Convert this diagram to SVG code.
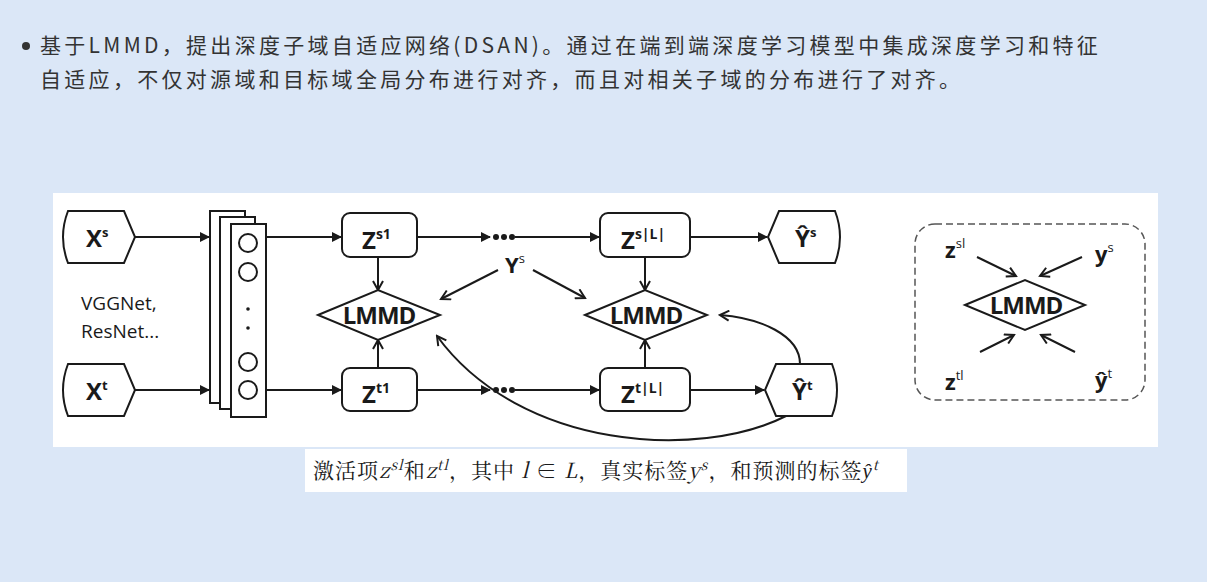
<svg xmlns="http://www.w3.org/2000/svg" width="1207" height="582" viewBox="0 0 1207 582">
<style>
.ln{stroke:#1a1a1a;stroke-width:2;fill:none}
.sh{stroke:#1a1a1a;stroke-width:2;fill:#fff}
.b{font-family:"Open Sans","Liberation Sans",sans-serif;font-weight:bold;fill:#1a1a1a}
.t{font-family:"Open Sans","Liberation Sans",sans-serif;fill:#1a1a1a}
.hd{font-family:"Noto Sans CJK SC",sans-serif;font-size:21px;letter-spacing:3.3px;fill:#333}
.lm{font-family:"Open Sans","Liberation Sans",sans-serif;font-weight:bold;fill:#1a1a1a;font-size:24px;letter-spacing:-1px}
</style>
<defs>
<marker id="fa" markerWidth="10" markerHeight="10" refX="9" refY="5" orient="auto" markerUnits="userSpaceOnUse"><path d="M0,0 L10,5 L0,10 Z" fill="#1a1a1a"/></marker>
<marker id="oa" markerWidth="12" markerHeight="12" refX="10" refY="6" orient="auto" markerUnits="userSpaceOnUse"><path d="M1,1 L10,6 L1,11" fill="none" stroke="#1a1a1a" stroke-width="2"/></marker>
</defs>
<rect width="1207" height="582" fill="#dbe7f7"/>
<circle cx="26" cy="46" r="4" fill="#333"/>
<text class="hd" x="40" y="53">基于LMMD，提出深度子域自适应网络(DSAN)。通过在端到端深度学习模型中集成深度学习和特征</text>
<text class="hd" x="40" y="87">自适应，不仅对源域和目标域全局分布进行对齐，而且对相关子域的分布进行了对齐。</text>
<rect x="53" y="193" width="1105" height="254" fill="#fff"/>
<rect x="305" y="449" width="602" height="43" fill="#fff"/>
<text x="313" y="478" font-family="'Noto Serif CJK SC','Liberation Serif',serif" font-size="21" letter-spacing="1" fill="#1a1a1a">激活项<tspan font-style="italic">z</tspan><tspan font-style="italic" font-size="14" dy="-8">sl</tspan><tspan dy="8">和</tspan><tspan font-style="italic">z</tspan><tspan font-style="italic" font-size="14" dy="-8">tl</tspan><tspan dy="8">，其中 </tspan><tspan font-style="italic">l</tspan> ∈ <tspan font-style="italic">L</tspan>，真实标签<tspan font-style="italic">y</tspan><tspan font-style="italic" font-size="14" dy="-8">s</tspan><tspan dy="8">，和预测的标签</tspan><tspan font-style="italic">ŷ</tspan><tspan font-style="italic" font-size="14" dy="-8">t</tspan></text>
<g id="connectors">
<line class="ln" x1="135" y1="237" x2="209" y2="237" marker-end="url(#fa)"/>
<line class="ln" x1="135" y1="390" x2="209" y2="390" marker-end="url(#fa)"/>
<line class="ln" x1="266" y1="237" x2="341" y2="237" marker-end="url(#fa)"/>
<line class="ln" x1="266" y1="390" x2="341" y2="390" marker-end="url(#fa)"/>
<line class="ln" x1="417" y1="237" x2="490" y2="237" marker-end="url(#fa)"/>
<line class="ln" x1="417" y1="390" x2="490" y2="390" marker-end="url(#fa)"/>
<line class="ln" x1="515" y1="237" x2="599" y2="237" marker-end="url(#fa)"/>
<line class="ln" x1="515" y1="390" x2="599" y2="390" marker-end="url(#fa)"/>
<line class="ln" x1="690" y1="237" x2="767" y2="237" marker-end="url(#fa)"/>
<line class="ln" x1="690" y1="390" x2="764" y2="390" marker-end="url(#fa)"/>
<line class="ln" x1="378" y1="257" x2="378" y2="290" marker-end="url(#oa)"/>
<line class="ln" x1="378" y1="368" x2="378" y2="340" marker-end="url(#oa)"/>
<line class="ln" x1="645" y1="257" x2="645" y2="290" marker-end="url(#oa)"/>
<line class="ln" x1="645" y1="368" x2="645" y2="340" marker-end="url(#oa)"/>
<line class="ln" x1="498" y1="270" x2="441" y2="299" marker-end="url(#oa)"/>
<line class="ln" x1="533" y1="270" x2="585" y2="298" marker-end="url(#oa)"/>
<path class="ln" d="M800,364 C800,335 760,318 720,315" marker-end="url(#oa)"/>
<path class="ln" d="M786,416 C700,460 520,450 437,336" marker-end="url(#oa)"/>
<line class="ln" x1="977" y1="257" x2="1016" y2="276" marker-end="url(#oa)"/>
<line class="ln" x1="1082" y1="257" x2="1040" y2="276" marker-end="url(#oa)"/>
<line class="ln" x1="980" y1="352" x2="1014" y2="335" marker-end="url(#oa)"/>
<line class="ln" x1="1075" y1="352" x2="1041" y2="335" marker-end="url(#oa)"/>
</g>
<g id="dots" fill="#1a1a1a">
<circle cx="496" cy="237" r="3"/><circle cx="504" cy="237" r="3"/><circle cx="512" cy="237" r="3"/>
<circle cx="496" cy="390" r="3"/><circle cx="504" cy="390" r="3"/><circle cx="512" cy="390" r="3"/>
</g>
<g id="xs"><path class="sh" d="M68,211 H124 L135,237 L124,263 H68 Q58,237 68,211 Z"/><text class="b" x="86" y="247" font-size="24">X<tspan font-size="13" dy="-10">s</tspan></text></g>
<g id="xt"><path class="sh" d="M68,364 H124 L135,390 L124,416 H68 Q58,390 68,364 Z"/><text class="b" x="86" y="400" font-size="24">X<tspan font-size="13" dy="-10">t</tspan></text></g>
<g id="backbone">
<rect class="sh" x="210" y="211" width="35" height="192"/>
<rect class="sh" x="220" y="217" width="35" height="192"/>
<rect class="sh" x="231" y="224" width="35" height="193"/>
<circle class="sh" cx="248" cy="243" r="9"/><circle class="sh" cx="248" cy="272" r="9"/>
<circle class="sh" cx="248" cy="362" r="9"/><circle class="sh" cx="248" cy="390" r="9"/>
<circle cx="248" cy="309" r="1.8" fill="#1a1a1a"/><circle cx="248" cy="328" r="1.8" fill="#1a1a1a"/>
<text class="t" x="81" y="310" font-size="19">VGGNet,</text>
<text class="t" x="81" y="338" font-size="19">ResNet...</text>
</g>
<g id="zs1"><rect class="sh" x="342" y="213" width="75" height="44" rx="8"/><text class="b" x="362" y="249" font-size="24">Z<tspan font-size="14" dy="-10">s1</tspan></text></g>
<g id="zt1"><rect class="sh" x="342" y="368" width="75" height="43" rx="8"/><text class="b" x="362" y="403" font-size="24">Z<tspan font-size="14" dy="-10">t1</tspan></text></g>
<g id="zsL"><rect class="sh" x="600" y="213" width="90" height="44" rx="8"/><text class="b" x="621" y="249" font-size="24">Z<tspan font-size="14" dy="-10">s|L|</tspan></text></g>
<g id="ztL"><rect class="sh" x="600" y="368" width="90" height="43" rx="8"/><text class="b" x="621" y="403" font-size="24">Z<tspan font-size="14" dy="-10">t|L|</tspan></text></g>
<g id="lmmd1"><path class="sh" d="M318,315 L378,290 L440,315 L378,340 Z"/><text class="lm" x="379" y="324" text-anchor="middle">LMMD</text></g>
<g id="lmmd2"><path class="sh" d="M585,315 L645,290 L707,315 L645,340 Z"/><text class="lm" x="646" y="324" text-anchor="middle">LMMD</text></g>
<g id="ys"><text class="b" x="505" y="273" font-size="22">Y<tspan font-size="13" font-weight="normal" dy="-10">s</tspan></text></g>
<g id="yhs"><path class="sh" d="M779,211 H835 Q845,237 835,263 H779 L768,237 Z"/><text class="b" x="795" y="247" font-size="24">Ŷ<tspan font-size="13" dy="-10">s</tspan></text></g>
<g id="yht"><path class="sh" d="M776,364 H832 Q842,390 832,416 H776 L765,390 Z"/><text class="b" x="792" y="400" font-size="24">Ŷ<tspan font-size="13" dy="-10">t</tspan></text></g>
<g id="legend">
<rect x="915" y="224" width="230" height="176" rx="20" fill="none" stroke="#555" stroke-width="1.5" stroke-dasharray="7,4"/>
<text class="b" x="945" y="258" font-size="22">z<tspan font-size="13" font-weight="normal" dy="-10">sl</tspan></text>
<text class="b" x="1095" y="262" font-size="22">y<tspan font-size="13" font-weight="normal" dy="-10">s</tspan></text>
<text class="b" x="945" y="390" font-size="22">z<tspan font-size="13" font-weight="normal" dy="-10">tl</tspan></text>
<text class="b" x="1095" y="388" font-size="22">ŷ<tspan font-size="13" font-weight="normal" dy="-10">t</tspan></text>
<path class="sh" d="M965,305 L1025,280 L1085,305 L1025,330 Z"/><text class="lm" x="1026" y="314" text-anchor="middle">LMMD</text>
</g>
</svg>
